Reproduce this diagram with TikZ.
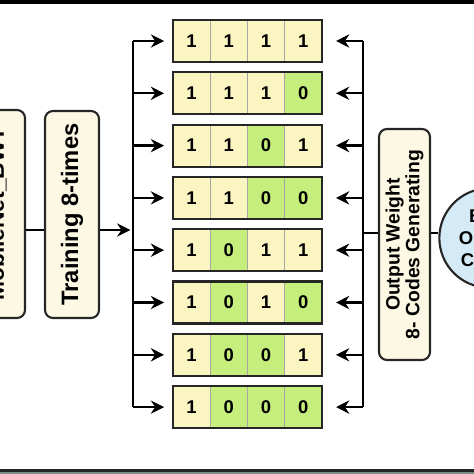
\documentclass[tikz,border=0pt]{standalone}
\usepackage{fontspec}
\setsansfont{Liberation Sans}
\usetikzlibrary{arrows.meta}
\definecolor{boxcream}{HTML}{FCF8E4}
\definecolor{cellcream}{HTML}{FBF5C2}
\definecolor{cellgreen}{HTML}{C6EE7C}
\definecolor{circblue}{HTML}{D4EAF6}
\definecolor{edgegrey}{HTML}{7A8A85}

\begin{document}
\begin{tikzpicture}[x=0.02cm, y=-0.02cm, font=\sffamily\bfseries,
  box/.style={draw=black!85, line width=1.2pt, fill=boxcream, rounded corners=4.5pt, inner sep=0pt},
  cell/.style={draw=black!35, line width=0.4pt, minimum width=0.745cm, minimum height=0.84cm,
    inner sep=0pt, font=\sffamily\bfseries\fontsize{10.5}{12}\selectfont},
  frame/.style={draw=black!85, line width=1.2pt, minimum width=2.98cm, minimum height=0.84cm, inner sep=0pt},
  wire/.style={line width=1.3pt},
  arr/.style={wire, -{Stealth[length=7.5pt, width=7.5pt]}}]
  \useasboundingbox (0,0) rectangle (474,474);
  \clip (0,0) rectangle (474,474);

  % edges of the scan
  \fill [black] (0,0) rectangle (474,4);
  \fill [edgegrey] (0,469) rectangle (474,474);
  \fill [black!85] (0,469) rectangle (474,471.5);

  % blocks
  \node [box, rotate=90, minimum width=4.16cm, minimum height=1.12cm,
    font=\sffamily\bfseries\fontsize{13}{15}\selectfont] (mobile) at (-3,214) {MobileNet\_BWT};
  \node [box, rotate=90, minimum width=4.14cm, minimum height=1.08cm,
    font=\sffamily\bfseries\fontsize{13.5}{15}\selectfont] (train) at (72,214.5) {Training 8-times};
  \node [box, rotate=90, minimum width=4.62cm, minimum height=1.02cm, align=center,
    font=\sffamily\bfseries\fontsize{11}{10}\selectfont] (outgen) at (404.5,244.5) {Output Weight\\8- Codes Generating};
  \node [circle, draw=black!85, line width=1.2pt, fill=circblue, minimum size=1.68cm, align=center,
    font=\sffamily\bfseries\fontsize{10.5}{12.5}\selectfont] (best) at (489,238) {Best\\Output\\Codes};

  % the eight codes
  \foreach \a/\b/\c/\d [count=\r] in {1/1/1/1, 1/1/1/0, 1/1/0/1, 1/1/0/0, 1/0/1/1, 1/0/1/0, 1/0/0/1, 1/0/0/0} {
    \foreach \v [count=\k] in {\a,\b,\c,\d} {
      \ifnum\v=0 \def\tint{cellgreen}\else\def\tint{cellcream}\fi
      \node [cell, fill=\tint] (c\r-\k) at ({173+37.25*(\k-0.5)}, {41+52.3*(\r-1)}) {\v};
    }
    \node [frame] (row\r) at (247.5, {41+52.3*(\r-1)}) {};
    \coordinate (lb\r) at (133, {41+52.3*(\r-1)});
    \coordinate (rb\r) at (363, {41+52.3*(\r-1)});
    \draw [arr, shorten >=4.5pt] (lb\r) -- (row\r.west);
    \draw [arr, shorten >=7.4pt] (rb\r) -- (row\r.east);
  }

  % buses and joins
  \coordinate (lj) at (133,230);
  \coordinate (rj) at (363,233);
  \draw [wire] (lb1) -- (lb8);
  \draw [wire] (rb1) -- (rb8);
  \draw [wire] (mobile.south |- lj) -- (train.north |- lj);
  \draw [arr, shorten >=1.5pt] (train.south |- lj) -- (lj);
  \draw [wire] (rj) -- (outgen.north |- rj);
  \draw [wire] (outgen.south |- rj) -- (best.west |- rj);
\end{tikzpicture}
\end{document}
